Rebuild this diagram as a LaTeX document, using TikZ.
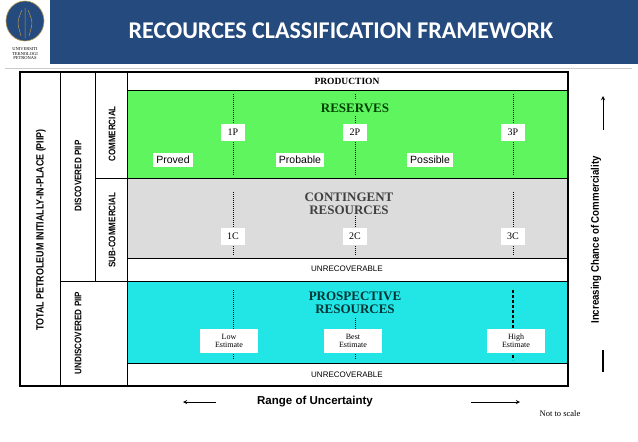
\documentclass[tikz,border=0pt]{standalone}
\usepackage{fontspec}
\setmainfont{Liberation Serif}
\newfontfamily\arialf{Liberation Sans}
\newfontfamily\carl{Carlito}
\definecolor{hdr}{HTML}{254A7E}
\definecolor{grn}{HTML}{5EF55E}
\definecolor{gry}{HTML}{DCDCDC}
\definecolor{cyn}{HTML}{22E6E6}
\definecolor{gold}{HTML}{B89A4A}
\begin{document}
\begin{tikzpicture}[x=1pt,y=-1pt,
  cell/.style={draw=black,line width=1pt},
  ttl/.style={font=\bfseries\fontsize{13}{13}\selectfont,align=center},
  lab/.style={fill=white,inner sep=3pt,minimum width=24,minimum height=17,font=\fontsize{10}{10}\selectfont},
  slab/.style={fill=white,inner sep=3pt,font=\arialf\fontsize{10.5}{10.5}\selectfont},
  elab/.style={fill=white,inner sep=2pt,font=\fontsize{8}{8}\selectfont,align=center,minimum width=58,minimum height=24},
  rot/.style={rotate=90,font=\arialf\bfseries\fontsize{9.5}{9.5}\selectfont,xscale=0.85},
  unr/.style={font=\arialf\fontsize{8}{8}\selectfont},
  dl/.style={densely dotted,line width=1pt}]
\useasboundingbox (0,0) rectangle (638,442);
\fill[white] (0,0) rectangle (638,442);
% header
\fill[hdr] (50,0) rectangle (638,64);
\node (title) at (341,31) {\carl\bfseries\fontsize{24}{24}\selectfont\color{white}RECOURCES CLASSIFICATION FRAMEWORK};
\draw[gray!40,line width=1pt] (5,68) -- (632,68);
\draw[gold,line width=0.6pt,fill=hdr] (25,21) ellipse (19 and 20);
\draw[gold,line width=0.5pt] (25,38) -- (25,8) (21,36) .. controls (17,22) .. (22,10) (29,36) .. controls (33,22) .. (28,10);
\node[font=\fontsize{4.5}{4.5}\selectfont,align=center] (logo) at (25,54) {UNIVERSITI\\TEKNOLOGI\\PETRONAS};
% rows
\fill[grn] (127,90) rectangle (568,178);
\fill[gry] (127,178) rectangle (568,258);
\fill[cyn] (127,281) rectangle (568,363);
\draw[cell] (127,72) rectangle (568,90);
\draw[cell] (127,90) rectangle (568,178);
\draw[cell] (127,178) rectangle (568,258);
\draw[cell] (127,258) rectangle (568,281);
\draw[cell] (127,281) rectangle (568,363);
\draw[cell] (20,72) rectangle (60,386);
\draw[cell] (60,72) rectangle (95,281);
\draw[cell] (60,281) rectangle (127,386);
\draw[cell] (95,72) rectangle (127,178);
\draw[cell] (95,178) rectangle (127,281);
\draw[line width=2pt] (20,72) rectangle (568,386);
\node[font=\bfseries\fontsize{9.5}{9.5}\selectfont] (prod) at (347,81) {PRODUCTION};
\node[unr] (u1) at (347,269) {UNRECOVERABLE};
\node[unr] (u2) at (347,375) {UNRECOVERABLE};
% side labels
\node[rot,font=\arialf\bfseries\fontsize{10.5}{10.5}\selectfont] (tp) at (41,230) {TOTAL PETROLEUM INITIALLY-IN-PLACE (PIIP)};
\node[rot] (dp) at (78,176) {DISCOVERED PIIP};
\node[rot] (up) at (78,333) {UNDISCOVERED PIIP};
\node[rot] (cm) at (112,134) {COMMERCIAL};
\node[rot] (sc) at (112,230) {SUB-COMMERCIAL};
% reserves
\coordinate (a1) at (233,94); \coordinate (a2) at (233,176);
\coordinate (b1) at (355,94); \coordinate (b2) at (355,176);
\coordinate (c1) at (513,94); \coordinate (c2) at (513,176);
\draw[dl] (a1) -- (a2); \draw[dl] (b1) -- (b2); \draw[dl] (c1) -- (c2);
\node[ttl,fill=grn,text=green!25!black] (res) at (355,108) {RESERVES};
\node[lab] (p1) at (233,132) {1P};
\node[lab] (p2) at (355,132) {2P};
\node[lab] (p3) at (513,132) {3P};
\node[slab] (pv) at (173,160) {Proved};
\node[slab] (pb) at (300,160) {Probable};
\node[slab] (ps) at (430,160) {Possible};
% contingent
\coordinate (d1) at (233,192); \coordinate (d2) at (233,256);
\coordinate (e1) at (355,192); \coordinate (e2) at (355,256);
\coordinate (f1) at (513,192); \coordinate (f2) at (513,256);
\draw[dl] (d1) -- (d2); \draw[dl] (e1) -- (e2); \draw[dl] (f1) -- (f2);
\node[ttl,fill=gry,inner sep=1pt,text=black!75] (con) at (349,204) {CONTINGENT\\RESOURCES};
\node[lab] (c1n) at (233,236) {1C};
\node[lab] (c2n) at (355,236) {2C};
\node[lab] (c3n) at (513,236) {3C};
% prospective
\coordinate (g1) at (233,290); \coordinate (g2) at (233,360);
\coordinate (h1) at (355,318); \coordinate (h2) at (355,360);
\coordinate (k1) at (513,290); \coordinate (k2) at (513,360);
\draw[dl] (g1) -- (g2); \draw[dl] (h1) -- (h2); \draw[densely dashed,line width=1.2pt] (k1) -- (k2);
\node[ttl,fill=cyn,inner sep=1pt,text=teal!40!black] (pro) at (355,303) {PROSPECTIVE\\RESOURCES};
\node[elab] (le) at (229,341) {Low\\Estimate};
\node[elab] (be) at (353,341) {Best\\Estimate};
\node[elab] (he) at (516,341) {High\\Estimate};
% right axis
\node[rotate=90,font=\arialf\bfseries\fontsize{11}{11}\selectfont,xscale=0.88] (icc) at (596,240) {Increasing Chance of Commerciality};
\coordinate (ua) at (603,96); \coordinate (ub) at (603,130);
\draw[-stealth,line width=0.9pt] (ub) -- (ua);
\coordinate (va) at (603,350); \coordinate (vb) at (603,372);
\draw[line width=1.4pt] (va) -- (vb);
% bottom axis
\node[font=\arialf\bfseries\fontsize{11.5}{11.5}\selectfont] (rou) at (315,402) {Range of Uncertainty};
\coordinate (la) at (183,402); \coordinate (lb) at (216,402);
\draw[-stealth,line width=0.9pt] (lb) -- (la);
\coordinate (ra) at (471,402); \coordinate (rb) at (520,402);
\draw[-stealth,line width=0.9pt] (ra) -- (rb);
\node[font=\fontsize{8.5}{8.5}\selectfont] (nts) at (560,414) {Not to scale};
\end{tikzpicture}
\end{document}
